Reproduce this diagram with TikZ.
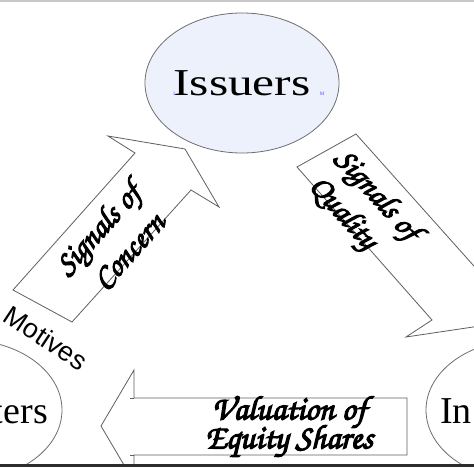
\documentclass[tikz,border=0pt]{standalone}
\usepackage{graphicx}
\usepackage{fontspec}
\setmainfont{Liberation Serif}
\newfontfamily\chorus{texgyrechorus-mediumitalic.otf}[FakeBold=3.5]
\newfontfamily\arialf{Liberation Sans}
\usetikzlibrary{shapes.geometric}
\definecolor{issfill}{RGB}{237,241,252}
\definecolor{ellgray}{RGB}{110,110,110}
\definecolor{arrgray}{RGB}{95,95,95}
\definecolor{topgray}{RGB}{200,200,200}
\definecolor{framek}{RGB}{45,45,45}
\begin{document}
\begin{tikzpicture}[x=1pt,y=-1pt,
  ell/.style={ellipse, draw=ellgray, line width=0.8pt, minimum width=192pt, minimum height=140pt, inner sep=0pt},
  blk/.style={draw=arrgray, line width=0.8pt, fill=white, line join=miter},
  sig/.style={font=\chorus\fontsize{32}{32}\selectfont, inner sep=0pt},
  val/.style={font=\chorus\fontsize{34}{34}\selectfont, inner sep=0pt},
  big/.style={font=\fontsize{38}{38}\selectfont, inner sep=0pt},
  speck/.style={font=\fontsize{5}{5}\selectfont, text=blue!70, inner sep=0pt}]
\useasboundingbox (0,0) rectangle (474,474);
\fill[white] (0,0) rectangle (474,474);
\begin{scope}
\clip (0,0) rectangle (474,465.5);
% ellipses
\node[ell, fill=issfill, big] (iss) at (242,83) {\scalebox{1.3}[1]{Issuers}};
\node[ell, fill=white] (und) at (-34,410) {};
\node[ell, fill=white] (inv) at (522,410) {};
\node[big, anchor=base east] (undtxt) at (48,423) {ters};
\node[big, anchor=base west] (invtxt) at (440,423) {In};
\node[speck] (s1) at (175,94) {L};
\node[speck] (s2) at (322,94) {M};
% block arrows
\draw[blk] (13,290) -- (135,153) -- (108,136) -- (185,149) -- (219,207) -- (191,190) -- (72,322) -- cycle;
\draw[blk] (297,167) -- (356,134) -- (490,284) -- (490,324.5) -- (406,337) -- (432,320) -- cycle;
\draw[blk] (407,398) -- (134,398) -- (134,370) -- (101,426) -- (134,482) -- (134,455) -- (407,455) -- cycle;
\draw[arrgray, line width=0.8pt] (130,398) -- (134,398) (130,455) -- (134,455);
% labels
\node[sig, rotate=48] (c1) at (100,231) {Signals of};
\node[sig, rotate=48] (c2) at (130,252) {Concern};
\node[sig, rotate=-48] (q1) at (376,196) {Signals of};
\node[sig, rotate=-48] (q2) at (342,214) {Quality};
\node[val] (v1) at (289,412) {Valuation of};
\node[val] (v2) at (289,441) {Equity Shares};
\node[font=\arialf\fontsize{27}{27}\selectfont, rotate=-33.5, inner sep=0pt] (mot) at (46,338) {Motives};
\end{scope}
\fill[topgray] (0,0) rectangle (474,2);
\draw[framek, line width=2.3pt] (0,465.5) -- (474,465.5);
\end{tikzpicture}
\end{document}
